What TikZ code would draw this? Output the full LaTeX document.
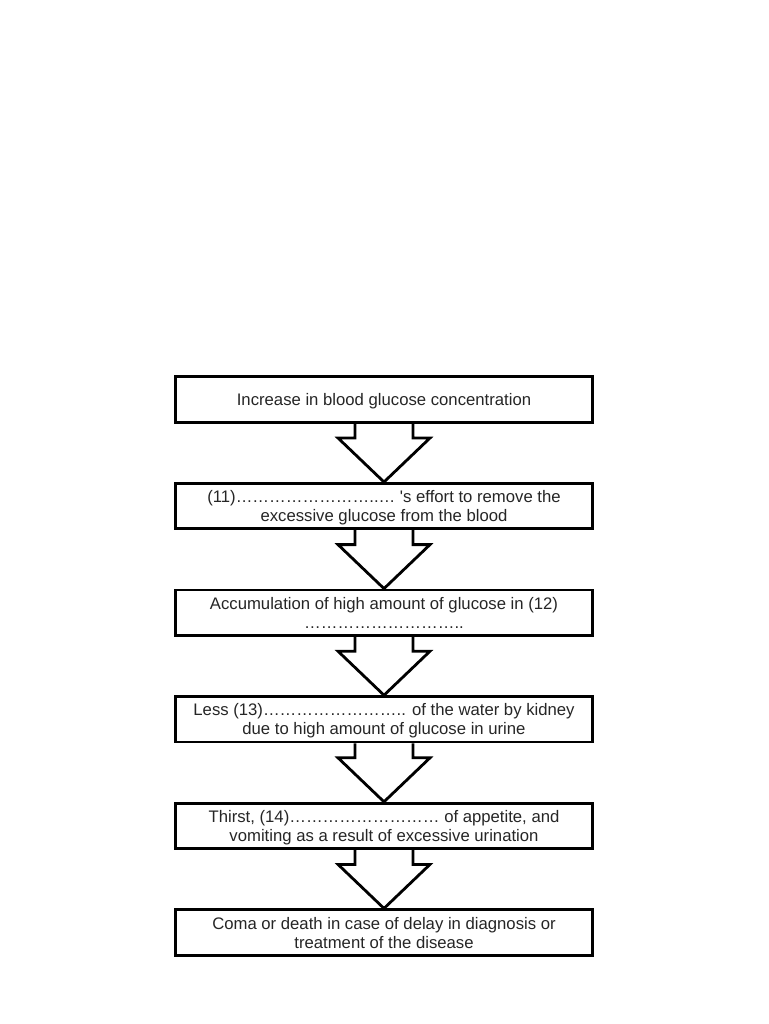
\documentclass[tikz,border=0pt]{standalone}
\usepackage{fontspec}
\setmainfont{Liberation Sans}
\usetikzlibrary{positioning,backgrounds}
\tikzset{
  stage/.style={
    rectangle, draw, line width=2.8pt, fill=white,
    minimum width=417pt, minimum height=45.4pt, inner sep=0pt,
    align=center, text depth=0pt, text=black!85,
    font=\fontsize{16.7}{19}\selectfont
  },
  blockarrow/.style={draw, line width=2.8pt, fill=white, line join=miter},
}

\begin{document}
\begin{tikzpicture}[x=1pt, y=-1pt, node distance=58.4pt]
  \useasboundingbox (0,0) rectangle (768,1024);

  % Chain of stages
  \node[stage] (rise) at (384,399.5) {Increase in blood glucose concentration};
  \node[stage, below=of rise] (effort)
    {(11)……………………..… \textquotesingle s effort to remove the\\excessive glucose from the blood};
  \node[stage, below=of effort] (accum)
    {Accumulation of high amount of glucose in (12)\\………………………..};
  \node[stage, below=of accum] (reabs)
    {Less (13)…………………….. of the water by kidney\\due to high amount of glucose in urine};
  \node[stage, below=of reabs] (thirst)
    {Thirst, (14)……………………… of appetite, and\\vomiting as a result of excessive urination};
  \node[stage, below=of thirst] (coma)
    {Coma or death in case of delay in diagnosis or\\treatment of the disease};

  % Block arrows between stages, behind the boxes
  \begin{scope}[on background layer]
    \foreach \a/\b in {rise/effort, effort/accum, accum/reabs, reabs/thirst, thirst/coma}
      \draw[blockarrow] ([xshift=-29pt]\a.south)
        |- ([xshift=-46pt, yshift=44pt]\b.north) -- (\b.north)
        -- ([xshift=46pt, yshift=44pt]\b.north) -| ([xshift=29pt]\a.south);
  \end{scope}
\end{tikzpicture}
\end{document}
